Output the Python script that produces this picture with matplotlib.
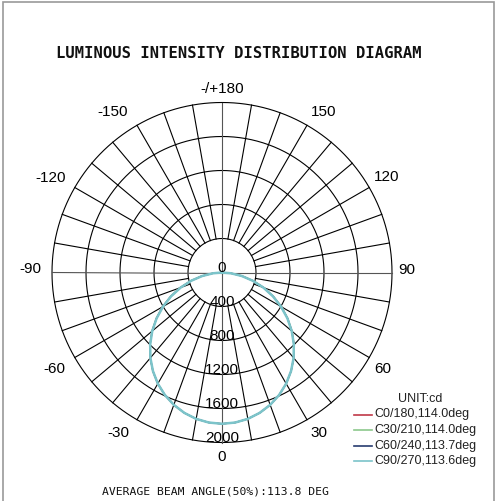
import numpy as np
import matplotlib
matplotlib.use("Agg")
import matplotlib.pyplot as plt
from matplotlib.lines import Line2D
from matplotlib.patches import Rectangle

# ---------------- data ----------------
angles = [-90, -85, -80, -75, -70, -65, -60, -55, -50, -45, -40, -35, -30, -25, -20, -15, -10, -5,
          0, 5, 10, 15, 20, 25, 30, 35, 40, 45, 50, 55, 60, 65, 70, 75, 80, 85, 90]

c0_180 = [0, 110, 242, 381, 524, 667, 808, 944, 1075, 1199, 1314, 1418, 1511, 1591, 1658, 1711, 1749, 1772,
          1780, 1772, 1749, 1711, 1658, 1591, 1511, 1418, 1314, 1199, 1075, 944, 808, 667, 524, 381, 242, 110, 0]
c30_210 = [0, 112, 244, 383, 525, 668, 808, 944, 1075, 1199, 1313, 1418, 1511, 1591, 1658, 1711, 1749, 1772,
           1780, 1772, 1749, 1711, 1658, 1591, 1511, 1418, 1313, 1199, 1075, 944, 808, 668, 525, 383, 244, 112, 0]
c60_240 = [0, 108, 238, 377, 520, 662, 803, 940, 1072, 1196, 1312, 1416, 1510, 1590, 1657, 1710, 1749, 1772,
           1780, 1772, 1749, 1710, 1657, 1590, 1510, 1416, 1312, 1196, 1072, 940, 803, 662, 520, 377, 238, 108, 0]
c90_270 = [0, 106, 236, 375, 518, 660, 801, 939, 1071, 1195, 1311, 1416, 1510, 1590, 1657, 1710, 1749, 1772,
           1780, 1772, 1749, 1710, 1657, 1590, 1510, 1416, 1311, 1195, 1071, 939, 801, 660, 518, 375, 236, 106, 0]

series_names = ["C0/180,114.0deg", "C30/210,114.0deg", "C60/240,113.7deg", "C90/270,113.6deg"]
series_colors = ["#c03848", "#8cc88c", "#283c70", "#7cc4ca"]

ring_values = [400, 800, 1200, 1600, 2000]
radial_labels = ["0", "400", "800", "1200", "1600", "2000"]
angle_labels = ["0", "30", "60", "90", "120", "150", "-/+180", "-150", "-120", "-90", "-60", "-30"]
# label placement (angle in deg, radius in data units) — layout only
angle_label_pos = [(0, 2170), (31.1, 2205), (59.1, 2208), (90.8, 2176), (120.1, 2242), (147.6, 2237),
                   (180, 2164), (-145.8, 2282), (-118.8, 2305), (-91, 2258), (-60.1, 2278), (-32.9, 2250)]

title = "LUMINOUS INTENSITY DISTRIBUTION DIAGRAM"
footer = "AVERAGE BEAM ANGLE(50%):113.8 DEG"
unit = "UNIT:cd"

# ---------------- figure ----------------
W, H = 498, 501
fig = plt.figure(figsize=(W / 100, H / 100), dpi=100)
fig.patch.set_facecolor("white")

# outer frame (left, top, right)
fig.add_artist(Rectangle((3 / W, -0.05), (494 - 3) / W, 1.05 - 2 / H, transform=fig.transFigure,
                         fill=False, edgecolor="#999999", linewidth=1.2))

cx, cy, R = 222, 272.5, 170
ax = fig.add_axes([(cx - R) / W, (H - cy - R) / H, 2 * R / W, 2 * R / H], projection="polar")
ax.set_theta_zero_location("S")
ax.set_theta_direction(1)
ax.set_ylim(0, 2000)
ax.grid(False)
ax.set_xticks([])
ax.set_yticks([])
ax.spines["polar"].set_visible(False)
ax.patch.set_alpha(0)

# grid rings
th = np.linspace(0, 2 * np.pi, 721)
for rv in ring_values:
    ax.plot(th, np.full_like(th, rv), color="black", lw=0.8, zorder=1, clip_on=False)
# spokes
for a in range(0, 360, 10):
    t = np.deg2rad(a)
    if a % 90 == 0:
        ax.plot([t, t], [0, 2000], color="#555555", lw=0.8, zorder=1, clip_on=False)
    else:
        ax.plot([t, t], [ring_values[0], 2000], color="black", lw=0.8, zorder=1, clip_on=False)

# curves
theta = np.deg2rad(angles)
all_series = [c0_180, c30_210, c60_240, c90_270]
for vals, col in zip(all_series, series_colors):
    lw = 1.8 if col == series_colors[-1] else 1.0
    ax.plot(theta, vals, color=col, lw=lw, zorder=3, clip_on=False)

# angle labels
for lab, (a, rr) in zip(angle_labels, angle_label_pos):
    ax.text(np.deg2rad(a), rr, lab, ha="center", va="center", fontsize=11,
            family="Liberation Sans", color="black", clip_on=False)

# radial labels
for i, lab in enumerate(radial_labels):
    ax.annotate(lab, xy=(0, 400 * i), xytext=(0, 3.5), textcoords="offset points",
                ha="center", va="center", fontsize=11, family="Liberation Sans",
                color="black", zorder=4, annotation_clip=False)

# title and footer
fig.text(239 / W, 1 - 53 / H, title, ha="center", va="center", fontsize=11.2,
         family="DejaVu Sans Mono", weight="bold", color="#111111")
fig.text(215 / W, 1 - 491 / H, footer, ha="center", va="center", fontsize=8.2,
         family="DejaVu Sans Mono", color="#111111")

# legend
fig.text(420 / W, 1 - 399 / H, unit, ha="center", va="center", fontsize=9,
         family="Liberation Sans", color="#222222")
rows_y = [414.5, 430, 445.5, 461]
for yy, name, col in zip(rows_y, series_names, series_colors):
    fig.add_artist(Line2D([354 / W, 372 / W], [1 - yy / H, 1 - yy / H], transform=fig.transFigure,
                          color=col, lw=1.2))
    fig.text(374 / W, 1 - yy / H, name, ha="left", va="center", fontsize=9,
             family="Liberation Sans", color="#222222")

fig.savefig("out.png", dpi=100)
